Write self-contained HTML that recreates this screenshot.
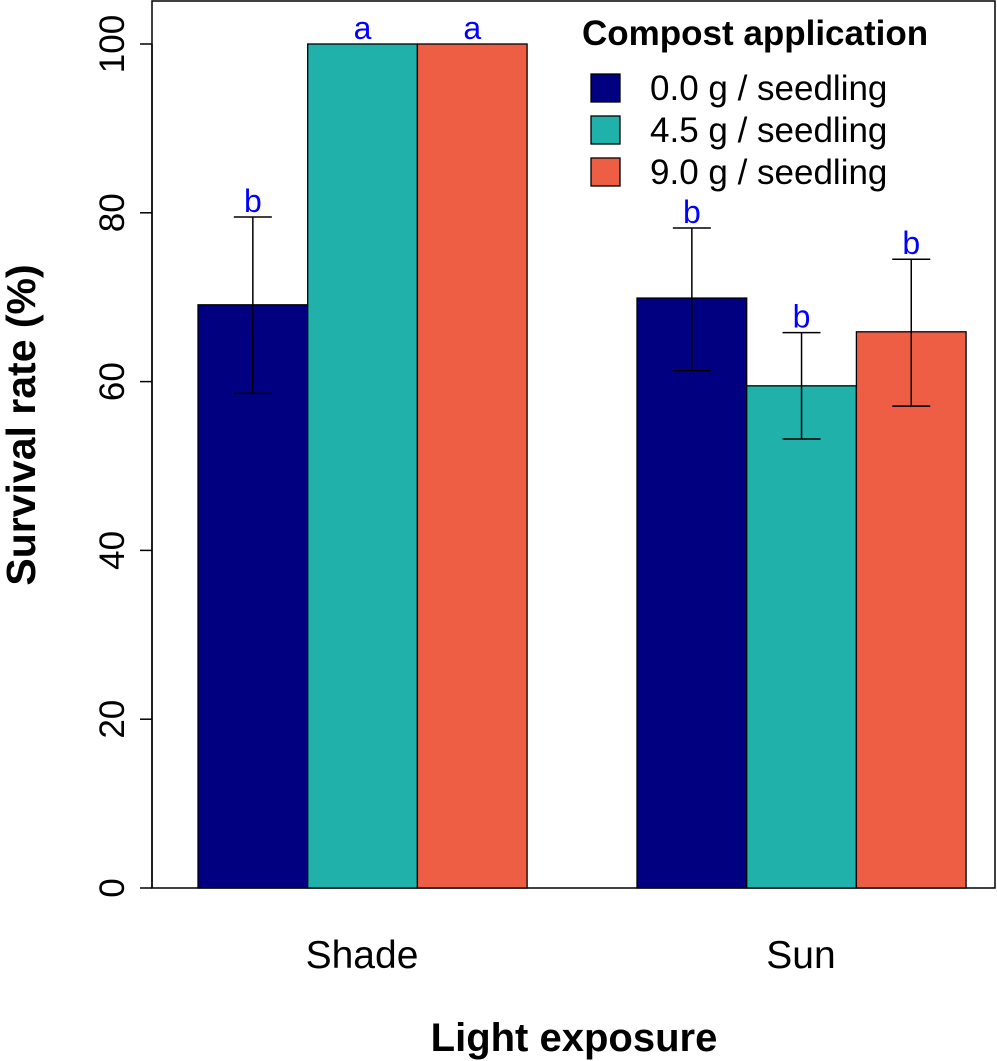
<!DOCTYPE html>
<html><head><meta charset="utf-8"><style>
html,body{margin:0;padding:0;background:#fff;}
svg{display:block;font-family:"Liberation Sans",Arial,sans-serif;}
</style></head><body>
<svg id="chart" width="997" height="1061" viewBox="0 0 997 1061" xmlns="http://www.w3.org/2000/svg">
<rect x="152" y="1" width="843" height="887" fill="none" stroke="#000" stroke-width="1.5"/>
<g id="bars"></g>
<g id="yaxis"></g>
<text x="362" y="968" font-size="39" text-anchor="middle">Shade</text>
<text x="801" y="968" font-size="39" text-anchor="middle">Sun</text>
<text x="574" y="1051" font-size="40" font-weight="bold" text-anchor="middle">Light exposure</text>
<text transform="translate(35,425) rotate(-90)" font-size="41" font-weight="bold" text-anchor="middle">Survival rate (%)</text>
<g>
<text x="582" y="45" font-size="35" font-weight="bold">Compost application</text>
<g id="legend-items"></g>
</g>
</svg>
<script>
const groups=["Shade","Sun"];
const levels=["0.0 g / seedling","4.5 g / seedling","9.0 g / seedling"];
const colors=["#000080","#20B2AA","#EE5E45"];
const shadeVals=[69.1,100,100];
const sunVals=[69.9,59.5,65.9];
const shadeLo=[58.6,null,null];
const shadeHi=[79.5,null,null];
const sunLo=[61.3,53.2,57.1];
const sunHi=[78.2,65.8,74.5];
const shadeLetters=["b","a","a"];
const sunLetters=["b","b","b"];
const yTicks=[0,20,40,60,80,100];

const NS="http://www.w3.org/2000/svg";
const y=v=>888-v*8.44;
const groupStart=[198,637], bw=109.7;
const vals=[shadeVals,sunVals], lo=[shadeLo,sunLo], hi=[shadeHi,sunHi], lets=[shadeLetters,sunLetters];
const bars=document.getElementById('bars');
function mk(tag,attrs,parent){const e=document.createElementNS(NS,tag);for(const k in attrs)e.setAttribute(k,attrs[k]);parent.appendChild(e);return e;}
groups.forEach((g,gi)=>{
  vals[gi].forEach((v,i)=>{
    const x=groupStart[gi]+i*bw;
    const r=mk('rect',{x:x,y:y(v),width:bw,height:888-y(v),fill:colors[i],stroke:'#000','stroke-width':1.3},bars);
    
    
    const cx=x+bw/2;
    let top=v;
    if(lo[gi][i]!=null){
      const l=mk('path',{d:`M${cx},${y(lo[gi][i])}V${y(hi[gi][i])}M${cx-19},${y(lo[gi][i])}H${cx+19}M${cx-19},${y(hi[gi][i])}H${cx+19}`,stroke:'#000','stroke-width':1.5,fill:'none'},bars);
      
      
      top=hi[gi][i];
    }
    const t=mk('text',{x:cx,y:y(top)-5,'font-size':32,fill:'#0000ff','text-anchor':'middle'},bars);
    t.textContent=lets[gi][i];
    
    
  });
});
const ya=document.getElementById('yaxis');
const al=mk('line',{x1:152,x2:152,y1:y(0),y2:y(100),stroke:'#000','stroke-width':1.5},ya);


yTicks.forEach(v=>{
  const tk=mk('line',{x1:140,x2:152,y1:y(v),y2:y(v),stroke:'#000','stroke-width':1.5},ya);
  
  
  const t=mk('text',{transform:`translate(124,${y(v)}) rotate(-90)`,'font-size':35,'text-anchor':'middle'},ya);
  t.textContent=v;
  
  
});
const li=document.getElementById('legend-items');
levels.forEach((lv,i)=>{
  const yy=88+i*42;
  const r=mk('rect',{x:591,y:yy-14,width:29,height:28,fill:colors[i],stroke:'#000','stroke-width':1.3},li);
  
  
  const t=mk('text',{x:650,y:yy+12,'font-size':35},li);
  t.textContent=lv;
  
  
});
</script>
</body></html>
